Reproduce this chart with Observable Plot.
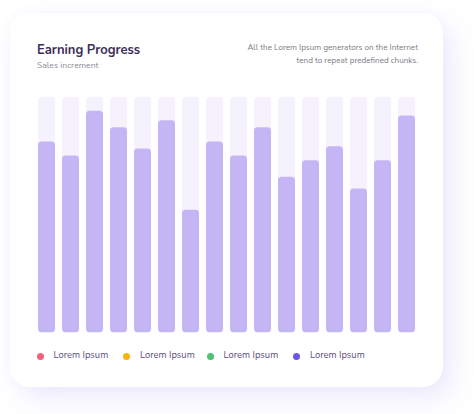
<!DOCTYPE html>
<html>
<head>
<meta charset="utf-8">
<script src="https://cdn.jsdelivr.net/npm/d3@7"></script>
<script src="https://cdn.jsdelivr.net/npm/@observablehq/plot@0.6"></script>
<style>
  html, body { margin: 0; padding: 0; background: #ffffff; width: 474px; height: 414px; overflow: hidden; font-family: "Nunito", Lato, "Noto Sans", sans-serif; }
  #card { position: absolute; left: 10px; top: 13px; width: 433px; height: 374px; background: #fff; border-radius: 20px;
          box-shadow: 10px 12px 28px rgba(120, 95, 235, 0.13), 0 0 12px rgba(120, 95, 235, 0.04); }
  #chart { position: absolute; left: 0; top: 0; }
  #title { position: absolute; left: 37px; top: 42px; font-size: 13px; font-weight: 700; color: #3b2d5a; line-height: 16px; }
  #subtitle { position: absolute; left: 37px; top: 60px; font-size: 8.6px; color: #8c8a94; line-height: 11px; }
  #desc { position: absolute; right: 56px; top: 42px; font-size: 8.1px; line-height: 12.5px; color: #7d7b85; text-align: right; }
  .lg { position: absolute; top: 349px; font-size: 9.4px; color: #5b4d78; white-space: nowrap; line-height: 13px; }
  .dot { position: absolute; width: 7px; height: 7px; border-radius: 50%; top: 3.5px; }
  .lbl { position: absolute; left: 17px; top: 0; }
</style>
</head>
<body>
<div id="card"></div>
<div id="chart"></div>
<div id="title">Earning Progress</div>
<div id="subtitle">Sales increment</div>
<div id="desc">All the Lorem Ipsum generators on the Internet<br>tend to repeat predefined chunks.</div>
<div id="legend"></div>
<script>
const categories = ["1","2","3","4","5","6","7","8","9","10","11","12","13","14","15","16"];
const values = [81, 75, 94, 87, 78, 90, 52, 81, 75, 87, 66, 73, 79, 61, 73, 92];
const maxValue = 100;
const legendLabels = ["Lorem Ipsum", "Lorem Ipsum", "Lorem Ipsum", "Lorem Ipsum"];
const legendColors = ["#f2607e", "#f7b50a", "#4fc173", "#6d55ea"];

const data = categories.map((c, i) => ({cat: c, value: values[i], max: maxValue}));

const plot = Plot.plot({
  width: 474,
  height: 414,
  margin: 0,
  style: {background: "transparent", overflow: "visible"},
  x: {type: "band", domain: categories, range: [29.8, 423.9], padding: 0.285, axis: null},
  y: {domain: [0, maxValue], range: [332.3, 96.7], axis: null},
  marks: [
    Plot.barY(data, {x: "cat", y: "max", fill: "#f5f2fd", rx: 3.5}),
    Plot.barY(data, {x: "cat", y: "value", fill: "#c4b6f5", rx: 3.5})
  ]
});
document.getElementById("chart").appendChild(plot);

const legendX = [36.5, 123, 206.5, 293];
const legend = document.getElementById("legend");
legendLabels.forEach((l, i) => {
  const d = document.createElement("div");
  d.className = "lg";
  d.style.left = legendX[i] + "px";
  d.innerHTML = `<span class="dot" style="background:${legendColors[i]}"></span><span class="lbl">${l}</span>`;
  legend.appendChild(d);
});
</script>
</body>
</html>
